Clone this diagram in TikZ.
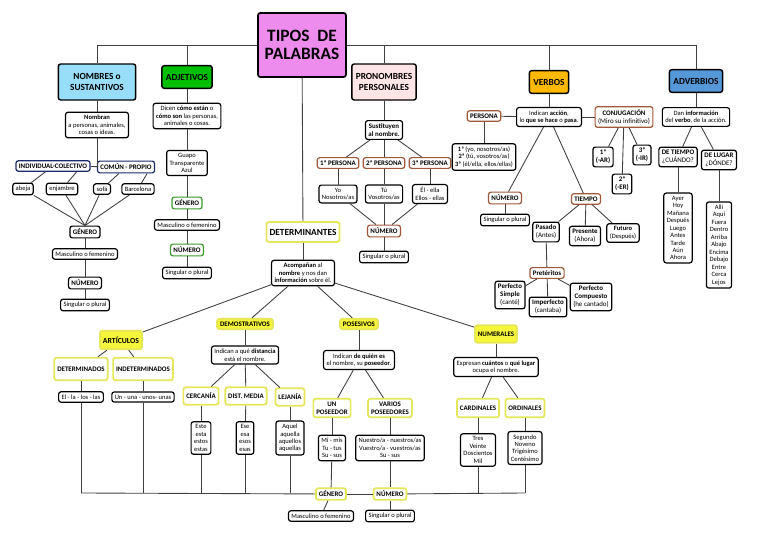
\documentclass[tikz,border=0pt]{standalone}
\usepackage{fontspec}
\setmainfont{Carlito}
\newcommand\fsm{\fontsize{4.9}{5.6}\selectfont}
\newcommand\fhd{\fontsize{5.2}{6}\selectfont\bfseries}
\newcommand\fbig{\fontsize{7}{8}\selectfont\bfseries}
\definecolor{yel}{HTML}{E6E65A}
\definecolor{yfill}{HTML}{F5F53A}
\definecolor{brn}{HTML}{A0583A}
\definecolor{grn}{HTML}{3A9A2A}
\definecolor{nav}{HTML}{1A2A6A}
\begin{document}
\begin{tikzpicture}[x=0.75pt,y=-0.75pt,
  b/.style={draw, rounded corners=1.8pt, line width=0.9pt, fill=white, align=center, inner sep=2.2pt, font=\fsm},
  h/.style={b, font=\fhd},
  big/.style={h, draw=black, line width=1.1pt, inner sep=3pt, font=\fbig},
  hy/.style={h, draw=yel, line width=1.3pt},
  hb/.style={h, draw=brn},
  hg/.style={h, draw=grn},
  ln/.style={draw=black!75, line width=0.65pt}]
\useasboundingbox (0,0) rectangle (768,543);
\fill[white] (0,0) rectangle (768,543);
% top bus
\coordinate (t1) at (97,45); \coordinate (t2) at (187,45); \coordinate (t4) at (384,45);
\coordinate (t5) at (549,45); \coordinate (t6) at (696,45);
\draw[ln] (t1) -- (t6);
\node[b, draw=black, line width=1.3pt, fill=violet!30!magenta!45, minimum width=66pt, minimum height=48pt, font=\fontsize{13}{14}\selectfont\bfseries] (tipos) at (302,45) {TIPOS \ DE\\PALABRAS};
% NOMBRES
\node[big, fill=cyan!40, minimum width=58pt, minimum height=27pt] (nom) at (97,82) {NOMBRES o\\SUSTANTIVOS};
\node[b] (nomd) at (97,125) {\textbf{Nombran}\\a personas, animales,\\cosas o ideas.};
\node[h, draw=nav] (ic) at (53,166) {INDIVIDUAL-COLECTIVO};
\node[h, draw=nav] (cp) at (126,167) {COMÚN - PROPIO};
\node[b] (abe) at (23,189) {abeja};
\node[b] (enj) at (62,189) {enjambre};
\node[b] (sof) at (102,189) {sofá};
\node[b] (bar) at (138,189) {Barcelona};
\node[h] (ng) at (85,232) {GÉNERO};
\node[b] (ngm) at (85,254) {Masculino o femenino};
\node[h] (nn) at (85,283) {NÚMERO};
\node[b] (nns) at (85,305) {Singular o plural};
\draw[ln] (t1) -- (nom); \draw[ln] (nom) -- (nomd);
\coordinate (nj) at (97,167);
\draw[ln] (nomd) -- (nj); \draw[ln] (ic) -- (cp);
\draw[ln] (ic) -- (abe); \draw[ln] (ic.south east) ++(-14,0) -- (enj);
\draw[ln] (cp) -- (sof); \draw[ln] (cp.south east) ++(-8,0) -- (bar);
\foreach \n in {abe,enj,sof,bar} \draw[ln] (\n) -- (ng.north);
\draw[ln] (ng) -- (ngm) -- (nn) -- (nns);
% ADJETIVOS
\node[big, fill=green!75!black, minimum height=17pt] (adj) at (187,77) {ADJETIVOS};
\node[b] (adjd) at (187,116) {Dicen \textbf{cómo están} o\\\textbf{cómo son} las personas,\\animales o cosas.};
\node[b] (adjg) at (187,163) {Guapo\\Transparente\\Azul};
\node[hg] (ag) at (187,203) {GÉNERO};
\node[b] (agm) at (187,225) {Masculino o femenino};
\node[hg] (an) at (187,250) {NÚMERO};
\node[b] (ans) at (187,273) {Singular o plural};
\draw[ln] (t2) -- (adj) -- (adjd) -- (adjg) -- (ag) -- (agm) -- (an) -- (ans);
% PRONOMBRES
\node[big, fill=red!10, minimum height=27pt] (pro) at (384,82) {PRONOMBRES\\PERSONALES};
\node[h] (prod) at (384,130) {Sustituyen\\al nombre.};
\node[hb] (p1) at (338,163) {1ª PERSONA};
\node[hb] (p2) at (384,163) {2ª PERSONA};
\node[hb] (p3) at (430,163) {3ª PERSONA};
\node[b] (p1d) at (338,194) {Yo\\Nosotros/as};
\node[b] (p2d) at (384,194) {Tú\\Vosotros/as};
\node[b] (p3d) at (430,194) {Él - ella\\Ellos - ellas};
\node[hb] (pn) at (384,231) {NÚMERO};
\node[b] (pns) at (384,257) {Singular o plural};
\draw[ln] (t4) -- (pro) -- (prod);
\draw[ln] (prod) -- (p1); \draw[ln] (prod) -- (p2); \draw[ln] (prod) -- (p3);
\draw[ln] (p1) -- (p1d); \draw[ln] (p2) -- (p2d); \draw[ln] (p3) -- (p3d);
\draw[ln] (p1d) -- (pn); \draw[ln] (p2d) -- (pn); \draw[ln] (p3d) -- (pn); \draw[ln] (pn) -- (pns);
% VERBOS
\node[big, fill=orange!55!yellow, minimum height=17pt] (ver) at (549,82) {VERBOS};
\node[b] (verd) at (549,117) {Indican \textbf{acción},\\lo \textbf{que se hace} o \textbf{pasa}.};
\node[hb] (per) at (484,116) {PERSONA};
\node[b] (perd) at (484,157) {\textbf{1ª} (yo, nosotros/as)\\\textbf{2ª} (tú, vosotros/as)\\\textbf{3ª} (él/ella, ellos/ellas)};
\node[hb] (con) at (624,117) {CONJUGACIÓN\\{\mdseries(Miro su infinitivo)}};
\node[h] (c1) at (603,157) {1ª\\(-AR)};
\node[h] (c2) at (622,184) {2ª\\(-ER)};
\node[h] (c3) at (642,155) {3ª\\(-IR)};
\node[hb] (vn) at (505,198) {NÚMERO};
\node[b] (vns) at (505,220) {Singular o plural};
\node[hb] (vt) at (586,199) {TIEMPO};
\node[h] (pas) at (546,232) {Pasado\\{\mdseries(Antes)}};
\node[h] (pre) at (585,236) {Presente\\{\mdseries(Ahora)}};
\node[b] (fut) at (623,233) {\textbf{Futuro}\\(Después)};
\node[hb] (pret) at (547,273) {Pretéritos};
\node[h] (ps) at (510,295) {Perfecto\\Simple\\{\mdseries(canté)}};
\node[h] (imp) at (548,307) {Imperfecto\\{\mdseries(cantaba)}};
\node[h] (pc) at (591,297) {Perfecto\\Compuesto\\{\mdseries(he cantado)}};
\draw[ln] (t5) -- (ver) -- (verd);
\draw[ln] (per) -- (verd); \draw[ln] (verd) -- (con); \draw[ln] (per) -- (perd);
\draw[ln] (verd) -- (vn); \draw[ln] (verd) -- (vt); \draw[ln] (vn) -- (vns);
\draw[ln] (con) -- (c1); \draw[ln] (con) -- (c2); \draw[ln] (con) -- (c3);
\draw[ln] (vt) -- (pas); \draw[ln] (vt) -- (pre); \draw[ln] (vt) -- (fut);
\draw[ln] (pas) -- (pret); \draw[ln] (pret) -- (ps); \draw[ln] (pret) -- (imp); \draw[ln] (pret) -- (pc);
% ADVERBIOS
\node[big, fill=cyan!60!blue!70, minimum height=17pt] (adv) at (696,81) {ADVERBIOS};
\node[b] (advd) at (696,117) {Dan \textbf{información}\\del \textbf{verbo}, de la acción.};
\node[h] (dt) at (678,157) {DE TIEMPO\\{\mdseries¿CUÁNDO?}};
\node[h] (dl) at (719,160) {DE LUGAR\\{\mdseries¿DÓNDE?}};
\node[b] (dtl) at (678,228) {Ayer\\Hoy\\Mañana\\Después\\Luego\\Antes\\Tarde\\Aún\\Ahora};
\node[b] (dll) at (719,245) {Allí\\Aquí\\Fuera\\Dentro\\Arriba\\Abajo\\Encima\\Debajo\\Entre\\Cerca\\Lejos};
\draw[ln] (t6) -- (adv) -- (advd);
\draw[ln] (advd) -- (dt); \draw[ln] (advd) -- (dl); \draw[ln] (dt) -- (dtl); \draw[ln] (dl) -- (dll);
% DETERMINANTES
\node[hy, minimum height=15pt, font=\fbig] (det) at (303,232) {DETERMINANTES};
\node[b] (detd) at (303,273) {\textbf{Acompañan} al\\\textbf{nombre} y nos dan\\\textbf{información} sobre él.};
\draw[ln] (tipos) -- (det); \draw[ln] (det) -- (detd);
\node[hy, fill=yfill, minimum height=14pt, font=\fontsize{5.8}{6.5}\selectfont\bfseries] (art) at (121,340) {ARTÍCULOS};
\node[hy, fill=yfill] (dem) at (245,324) {DEMOSTRATIVOS};
\node[hy, fill=yfill] (pos) at (359,324) {POSESIVOS};
\node[hy, fill=yfill, minimum height=13pt] (num) at (496,334) {NUMERALES};
\draw[ln] (detd) -- (art); \draw[ln] (detd) -- (dem); \draw[ln] (detd) -- (pos); \draw[ln] (detd) -- (num);
\node[hy, minimum height=17pt] (dete) at (81,369) {DETERMINADOS};
\node[hy, minimum height=17pt] (inde) at (143,369) {INDETERMINADOS};
\node[b] (dl1) at (81,397) {El - la - los - las};
\node[b] (dl2) at (143,397) {Un - una - unos- unas};
\draw[ln] (art) -- (dete); \draw[ln] (art) -- (inde); \draw[ln] (dete) -- (dl1); \draw[ln] (inde) -- (dl2);
\node[b] (demd) at (245,355) {Indican a qué \textbf{distancia}\\está el nombre.};
\node[hy, minimum height=13pt] (cer) at (201,396) {CERCANÍA};
\node[hy, minimum height=13pt] (med) at (246,396) {DIST. MEDIA};
\node[hy, minimum height=13pt] (lej) at (290,397) {LEJANÍA};
\node[b] (cerl) at (201,438) {Este\\esta\\estos\\estas};
\node[b] (medl) at (245,438) {Ese\\esa\\esos\\esas};
\node[b] (lejl) at (290,438) {Aquel\\aquella\\aquellos\\aquellas};
\draw[ln] (dem) -- (demd); \draw[ln] (demd) -- (cer); \draw[ln] (demd) -- (med); \draw[ln] (demd) -- (lej);
\draw[ln] (cer) -- (cerl); \draw[ln] (med) -- (medl); \draw[ln] (lej) -- (lejl);
\node[b] (posd) at (359,360) {Indican \textbf{de quién es}\\el nombre, su \textbf{poseedor}.};
\node[hy] (un) at (332,408) {UN\\POSEEDOR};
\node[hy] (var) at (390,408) {VARIOS\\POSEEDORES};
\node[b] (unl) at (332,448) {Mi - mis\\Tu - tus\\Su - sus};
\node[b] (varl) at (390,448) {Nuestro/a - nuestros/as\\Vuestro/a - vuestros/as\\Su - sus};
\draw[ln] (pos) -- (posd); \draw[ln] (posd) -- (un); \draw[ln] (posd) -- (var);
\draw[ln] (un) -- (unl); \draw[ln] (var) -- (varl);
\node[b] (numd) at (496,367) {Expresan \textbf{cuántos} o \textbf{qué lugar}\\ocupa el nombre.};
\node[hy, minimum height=14pt] (car) at (478,408) {CARDINALES};
\node[hy, minimum height=14pt] (ord) at (525,408) {ORDINALES};
\node[b] (carl) at (478,450) {Tres\\Veinte\\Doscientos\\Mil};
\node[b] (ordl) at (525,448) {Segundo\\Noveno\\Trigésimo\\Centésimo};
\draw[ln] (num) -- (numd); \draw[ln] (numd) -- (car); \draw[ln] (numd) -- (ord);
\draw[ln] (car) -- (carl); \draw[ln] (ord) -- (ordl);
% bottom bus
\coordinate (bl) at (81,493); \coordinate (br) at (525,493);
\node[hy] (bg) at (331,494) {GÉNERO};
\node[b] (bgm) at (321,516) {Masculino o femenino};
\node[hy] (bn) at (390,494) {NÚMERO};
\node[b] (bns) at (390,516) {Singular o plural};
\draw[ln] (bl) -- (bg); \draw[ln] (bg) -- (bn); \draw[ln] (bn) -- (br);
\draw[ln] (dl1) -- (bl); \draw[ln] (dl2) -- (dl2 |- bl);
\draw[ln] (cerl) -- (cerl |- bl); \draw[ln] (medl) -- (medl |- bl); \draw[ln] (lejl) -- (lejl |- bl);
\draw[ln] (unl) -- (bg); \draw[ln] (varl) -- (bn);
\draw[ln] (carl) -- (carl |- bl); \draw[ln] (ordl) -- (br);
\draw[ln] (bg) -- (bgm); \draw[ln] (bn) -- (bns);
\end{tikzpicture}
\end{document}
